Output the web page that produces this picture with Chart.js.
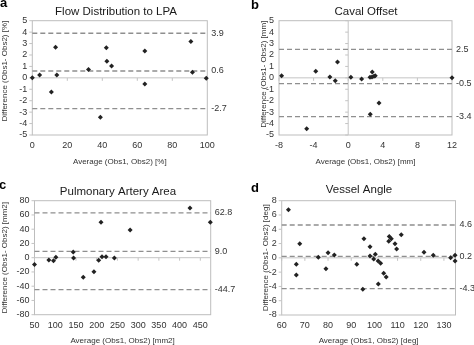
<!DOCTYPE html>
<html lang="en">
<head>
<meta charset="UTF-8">
<title>Bland-Altman agreement</title>
<script src="https://cdn.jsdelivr.net/npm/chart.js"></script>
<style>
  body { margin: 0; background: #fff; }
  .wrap { position: relative; width: 474px; height: 345px; overflow: hidden; }
  canvas { position: absolute; }
</style>
</head>
<body>
<div class="wrap">
  <canvas id="chartA" width="237" height="172" style="left:0;top:0"></canvas>
  <canvas id="chartB" width="237" height="172" style="left:237px;top:0"></canvas>
  <canvas id="chartC" width="237" height="173" style="left:0;top:172px"></canvas>
  <canvas id="chartD" width="237" height="173" style="left:237px;top:172px"></canvas>
</div>

<script>
  // a - Flow Distribution to LPA [%]
  const flowAvg  = [0, 4.2, 10.9, 13.3, 14.0, 32.1, 38.9, 42.3, 42.6, 45.3, 64.3, 64.3, 90.6, 91.5, 99.4];
  const flowDiff = [0, 0.25, -1.24, 2.67, 0.25, 0.72, -3.45, 2.64, 1.45, 1.04, 2.35, -0.54, 3.17, 0.48, -0.04];
  const flowLimits = [3.9, 0.6, -2.7];
  const flowXTicks = [0, 20, 40, 60, 80, 100];
  const flowYTicks = [-5, -4, -3, -2, -1, 0, 1, 2, 3, 4, 5];

  // b - Caval Offset [mm]
  const cavalAvg  = [-7.7, -3.75, -1.24, -2.12, -1.5, 0.31, 1.55, 2.52, 2.75, 2.98, 3.13, 2.78, 2.55, 3.56, -4.8, 12.0];
  const cavalDiff = [0.19, 0.57, 1.39, 0.07, -0.25, 0.05, -0.1, 0.05, 0.07, 0.13, 0.19, 0.51, -3.19, -2.2, -4.45, 0.01];
  const cavalLimits = [2.5, -0.5, -3.4];
  const cavalXTicks = [-8, -4, 0, 4, 8, 12];
  const cavalYTicks = [-5, -4, -3, -2, -1, 0, 1, 2, 3, 4, 5];

  // c - Pulmonary Artery Area [mm2]
  const paAvg  = [50, 84.6, 95.8, 101.5, 143.4, 144.2, 167.6, 193.4, 210.4, 204.8, 212.8, 222.5, 242.6, 280.6, 425, 474];
  const paDiff = [-9.4, -3.2, -4.2, 0.5, 8, -0.4, -27.5, -19.6, 49.7, -3.7, 1.4, 1.4, -0.4, 38.9, 69.8, 49.7];
  const paLimits = [62.8, 9.0, -44.7];
  const paXTicks = [50, 100, 150, 200, 250, 300, 350, 400, 450];
  const paYTicks = [-80, -60, -40, -20, 0, 20, 40, 60, 80];

  // d - Vessel Angle [deg]
  const angleAvg  = [62.9, 66.3, 66.3, 67.8, 75.8, 80.0, 79.1, 82.7, 92.4, 95.5, 95.0, 98.1, 98.1, 99.7, 100.4, 101.6,
                     102.7, 101.7, 104.0, 105.1, 106.4, 106.2, 107.3, 108.9, 109.6, 111.6, 121.4, 125.4, 132.9, 134.8, 134.8];
  const angleDiff = [6.74, -0.9, -2.4, 1.98, 0.07, 0.72, -1.52, 0.4, -0.9, 2.69, -4.4, 1.56, 0.26, -0.16, 0.49, -0.44,
                     -0.77, -3.66, -2.17, -2.68, 3.0, 2.31, 2.68, 1.98, 1.24, 3.24, 0.78, 0.36, 0.02, 0.36, -0.44];
  const angleLimits = [4.6, 0.2, -4.3];
  const angleXTicks = [60, 70, 80, 90, 100, 110, 120, 130];
  const angleYTicks = [-8, -6, -4, -2, 0, 2, 4, 6, 8];

  Chart.defaults.font.family = "'Liberation Sans', Arial, sans-serif";
  Chart.defaults.color = '#333';

  // frame, zero axes, limit lines, panel title and letter
  const panelDecor = {
    id: 'panelDecor',
    beforeDatasetsDraw(chart, args, o) {
      const { ctx, chartArea: a, scales: { x, y } } = chart;
      ctx.save();
      ctx.lineWidth = 1;
      ctx.strokeStyle = '#bdbdbd';
      ctx.strokeRect(a.left, a.top, a.right - a.left, a.bottom - a.top);

      const y0 = y.getPixelForValue(0);
      const xAxis = x.min < 0 ? x.getPixelForValue(0) : a.left;
      ctx.strokeStyle = '#c4c4c4';
      ctx.beginPath();
      ctx.moveTo(a.left, y0); ctx.lineTo(a.right, y0);
      if (x.min < 0) { ctx.moveTo(xAxis, a.top); ctx.lineTo(xAxis, a.bottom); }
      x.ticks.forEach(t => {
        const px = x.getPixelForValue(t.value);
        ctx.moveTo(px, y0); ctx.lineTo(px, y0 + 3);
      });
      y.ticks.forEach(t => {
        const py = y.getPixelForValue(t.value);
        ctx.moveTo(xAxis - 3, py); ctx.lineTo(xAxis, py);
      });
      ctx.stroke();

      ctx.setLineDash([5, 3]);
      ctx.lineWidth = 1.3;
      ctx.strokeStyle = '#8f8f8f';
      o.limits.forEach(v => {
        const py = y.getPixelForValue(v);
        ctx.beginPath();
        ctx.moveTo(a.left, py); ctx.lineTo(a.right, py);
        ctx.stroke();
      });
      ctx.setLineDash([]);

      ctx.fillStyle = '#333';
      ctx.font = "9px 'Liberation Sans', Arial, sans-serif";
      ctx.textAlign = 'left';
      ctx.textBaseline = 'middle';
      o.limits.forEach(v => ctx.fillText(v.toFixed(1), a.right + 4, y.getPixelForValue(v)));

      ctx.fillStyle = '#1a1a1a';
      ctx.font = "11.5px 'Liberation Sans', Arial, sans-serif";
      ctx.textAlign = 'center';
      ctx.fillText(o.title, o.titlePos[0], o.titlePos[1]);

      ctx.fillStyle = '#000';
      ctx.font = "bold 13px 'Liberation Sans', Arial, sans-serif";
      ctx.textAlign = 'left';
      ctx.textBaseline = 'alphabetic';
      ctx.fillText(o.letter, o.letterPos[0], o.letterPos[1]);
      ctx.restore();
    }
  };

  function blandAltman(id, p) {
    const canvas = document.getElementById(id);
    const W = canvas.width, H = canvas.height;
    const [left, right, top, bottom] = p.area;
    return new Chart(canvas, {
      type: 'scatter',
      data: {
        datasets: [{
          data: p.avg.map((v, i) => ({ x: v, y: p.diff[i] })),
          pointStyle: 'rectRot',
          pointRadius: 2.5,
          backgroundColor: '#222',
          borderColor: '#222',
          borderWidth: 0,
          clip: false
        }]
      },
      options: {
        responsive: false,
        animation: false,
        devicePixelRatio: 1,
        layout: { padding: { left: p.padLeft, right: W - right, top: top, bottom: 0 } },
        plugins: {
          legend: { display: false },
          tooltip: { enabled: false },
          panelDecor: { limits: p.limits, title: p.title, titlePos: p.titlePos, letter: p.letter, letterPos: p.letterPos }
        },
        scales: {
          x: {
            type: 'linear', min: p.xMin, max: p.xMax,
            afterBuildTicks: s => { s.ticks = p.xTicks.map(v => ({ value: v })); },
            afterFit: s => { s.height = H - bottom; },
            grid: { display: false, drawTicks: false },
            border: { display: false },
            ticks: { font: { size: 9 }, padding: 5, maxRotation: 0, autoSkip: false },
            title: { display: true, text: p.xTitle, font: { size: 8 }, color: '#333', padding: { top: 0, bottom: p.xTitlePad } }
          },
          y: {
            type: 'linear', min: p.yTicks[0], max: p.yTicks[p.yTicks.length - 1],
            afterBuildTicks: s => { s.ticks = p.yTicks.map(v => ({ value: v })); },
            afterFit: s => { s.width = left - p.padLeft; },
            grid: { display: false, drawTicks: false },
            border: { display: false },
            ticks: { font: { size: 9 }, padding: 5, autoSkip: false },
            title: { display: true, text: p.yTitle, align: p.yAlign, font: { size: 8 }, color: '#333', padding: { top: 0, bottom: 0 } }
          }
        }
      },
      plugins: [panelDecor]
    });
  }

  blandAltman('chartA', {
    avg: flowAvg, diff: flowDiff, limits: flowLimits, xTicks: flowXTicks, yTicks: flowYTicks,
    xMin: 0, xMax: 100, area: [32.3, 207.3, 20.7, 135], padLeft: 0, xTitlePad: 5.5, yAlign: 'end',
    title: 'Flow Distribution to LPA', titlePos: [116, 12], letter: 'a', letterPos: [0, 7],
    xTitle: 'Average (Obs1, Obs2) [%]', yTitle: 'Difference (Obs1- Obs2) [%]'
  });

  blandAltman('chartB', {
    avg: cavalAvg, diff: cavalDiff, limits: cavalLimits, xTicks: cavalXTicks, yTicks: cavalYTicks,
    xMin: -8, xMax: 12, area: [42, 215, 20.7, 135], padLeft: 22, xTitlePad: 5.5, yAlign: 'end',
    title: 'Caval Offset', titlePos: [129, 12], letter: 'b', letterPos: [14, 9],
    xTitle: 'Average (Obs1, Obs2) [mm]', yTitle: 'Difference (Obs1- Obs2) [mm]'
  });

  blandAltman('chartC', {
    avg: paAvg, diff: paDiff, limits: paLimits, xTicks: paXTicks, yTicks: paYTicks,
    xMin: 50, xMax: 475, area: [34.5, 210.7, 28.7, 142.7], padLeft: 0, xTitlePad: -1, yAlign: 'center',
    title: 'Pulmonary Artery Area', titlePos: [118, 20], letter: 'c', letterPos: [-1, 17],
    xTitle: 'Average (Obs1, Obs2) [mm2]', yTitle: 'Difference (Obs1- Obs2) [mm2]'
  });

  blandAltman('chartD', {
    avg: angleAvg, diff: angleDiff, limits: angleLimits, xTicks: angleXTicks, yTicks: angleYTicks,
    xMin: 60, xMax: 135, area: [44.7, 218.5, 28.7, 143], padLeft: 24, xTitlePad: -1, yAlign: 'center',
    title: 'Vessel Angle', titlePos: [122, 18], letter: 'd', letterPos: [14, 20],
    xTitle: 'Average (Obs1, Obs2) [deg]', yTitle: 'Difference (Obs1- Obs2) [deg]'
  });
</script>
</body>
</html>
